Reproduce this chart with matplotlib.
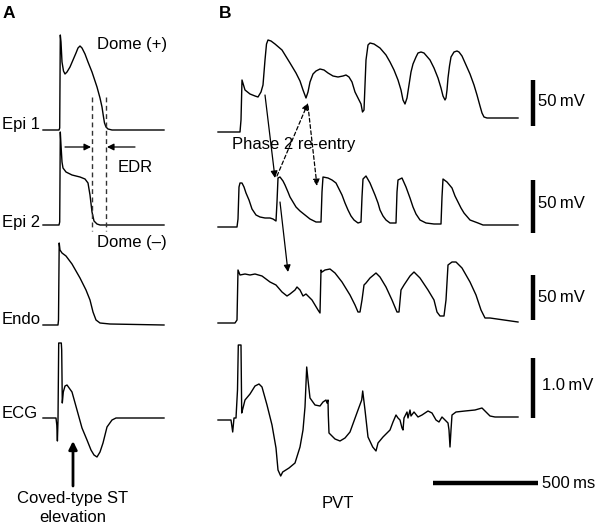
import numpy as np
import matplotlib
matplotlib.use("Agg")
import matplotlib.pyplot as plt
from matplotlib.patches import FancyArrowPatch

plt.rcParams['font.family'] = ['Liberation Sans', 'DejaVu Sans']

# ---------------- data: traces (time axis in display units, amplitude above baseline) -------------
# Panel A
epi1_t = [43, 59, 59.7, 60.3, 61, 62, 63.5, 65, 67, 70, 73, 76, 78, 80, 82, 85, 88, 92, 97, 100, 102, 103.5, 104.5, 106, 108, 112, 164]
epi1_v = [0, 0, 2, 95, 88, 68, 59, 56, 58, 63, 70, 77, 82, 84, 82, 76, 68, 58, 43, 32, 23, 13, 7, 3, 1, 0, 0]

epi2_t = [43, 59, 59.7, 60.3, 61, 62, 63, 66, 72, 80, 85, 88, 90, 92, 94, 97, 100, 164]
epi2_v = [0, 0, 3, 93, 80, 63, 57, 53, 50, 48, 46, 42, 30, 13, 4, 1, 0, 0]

endo_t = [43, 58, 58.5, 59.2, 60, 62, 66, 72, 80, 86, 90, 93, 96, 100, 110, 164]
endo_v = [0, 0, 5, 82, 75, 72, 69, 61, 47, 35, 25, 13, 5, 2, 1, 0]

ecgA_t = [43, 56, 56.8, 57.4, 58, 58.7, 61.3, 61.7, 62.3, 63.3, 65, 67, 72, 77, 82, 87, 91, 94, 97, 100, 103, 107, 112, 116, 164]
ecgA_v = [0, 0, -7, -23, -2, 75, 75, 68, 15, 26, 32, 33, 26, 8, -10, -22, -32, -37, -39, -34, -25, -9, -2, 0, 0]

# Panel B
b1_t = [218, 240, 241, 242, 245, 250, 255, 258, 261, 263, 265, 266.5, 268, 271, 275, 282, 290, 296, 300, 303, 306,
        308, 310, 313, 316, 320, 324, 328, 333, 338, 343, 346, 349, 352, 355, 358, 361, 362.5, 364, 366, 368, 370,
        374, 380, 386, 390, 394, 398, 401, 403, 405, 407, 409, 411, 413, 416, 418, 421, 424, 430, 434, 438, 441,
        443, 445, 446, 447, 448, 449.5, 451, 454, 457, 459, 462, 466, 470, 474, 477, 480, 482, 484, 487, 518]
b1_v = [0, 0, 12, 52, 42, 38, 36, 35, 40, 47, 72, 88, 92, 91, 88, 82, 69, 59, 51, 42, 34,
        40, 50, 58, 61, 63, 62, 59, 56, 55, 56, 57, 55, 50, 40, 34, 28, 20, 22, 72, 87, 89,
        88, 84, 77, 70, 62, 52, 42, 32, 28, 34, 47, 60, 68, 75, 79, 80, 79, 72, 64, 54, 44,
        36, 32, 34, 42, 54, 66, 75, 80, 81, 80, 76, 67, 58, 47, 37, 26, 19, 15, 14, 14]

b2_t = [218, 237, 238, 239, 240, 242, 244, 246, 249, 252, 256, 260, 265, 270, 273, 276, 277, 278, 280, 283, 285,
        288, 290, 293, 296, 300, 305, 310, 316, 321, 322, 323, 328, 332, 336, 339, 342, 345, 348, 351, 354, 358,
        361, 362, 363, 366, 370, 375, 378, 380, 383, 386, 390, 396, 397, 398, 402, 406, 410, 413, 416, 420, 426,
        434, 441, 442, 443, 447, 452, 455, 458, 461, 464, 470, 478, 483, 490, 518]
b2_v = [0, 0, 8, 40, 44, 44, 40, 34, 27, 18, 12, 10, 9, 9, 8, 6, 25, 49, 50, 46, 42,
        35, 30, 25, 20, 16, 12, 8, 5, 5, 35, 50, 49, 47, 44, 38, 32, 24, 17, 11, 7, 4,
        5, 30, 48, 51, 44, 32, 24, 17, 11, 7, 4, 4, 35, 47, 49, 40, 29, 20, 13, 7, 4,
        3, 3, 30, 48, 45, 39, 31, 25, 19, 14, 7, 4, 2, 2, 2]

b3_t = [218, 235, 237, 238, 240, 245, 250, 255, 262, 270, 276, 282, 287, 290, 295, 297, 300, 303, 306, 308, 312,
        318, 320, 321, 322, 325, 330, 335, 342, 350, 355, 358, 360, 362, 364, 366, 370, 376, 380, 386, 392, 397,
        399, 401, 404, 410, 414, 420, 428, 434, 437, 440, 444, 446, 448, 452, 456, 462, 470, 476, 481, 485, 490, 518]
b3_v = [0, 0, 3, 53, 48, 49, 48, 49, 47, 41, 38, 31, 27, 29, 33, 36, 33, 27, 29, 27, 23,
        13, 10, 53, 51, 53, 54, 50, 41, 28, 18, 11, 11, 23, 38, 40, 45, 50, 46, 36, 23, 11,
        11, 33, 38, 47, 51, 45, 33, 23, 11, 7, 7, 23, 58, 61, 61, 55, 41, 28, 13, 5, 5, 1]

ecgB_t = [218, 231, 232.7, 234, 236, 237.5, 238.3, 241, 241.7, 243, 245, 250, 255, 259, 262, 267, 272, 276, 278, 280.7,
          282.7, 289, 295, 300, 303, 305, 306.7, 308, 310, 315, 320, 323, 326, 327, 328, 328.3, 329, 335, 340, 345,
          350, 358, 361.7, 362.7, 365, 368, 372.7, 376, 378, 383, 390, 393, 396, 398, 400, 402, 403, 404, 407, 408,
          410, 411, 414, 418, 422, 428, 432, 436, 439, 442, 445, 448, 449, 450, 451, 452, 456, 465, 475, 482, 486,
          490, 495, 518]
ecgB_v = [0, 0, -12, 2, 2, 30, 75, 75, 7, 12, 20, 26, 34, 36, 33, 15, -5, -28, -50, -56,
          -52, -48, -43, -27, -10, 13, 53, 40, 22, 15, 14, 18, 20, 17, 20, 5, -13, -19, -21, -18,
          -12, 10, 20, 29, 10, -17, -27, -31, -23, -17, -10, -2, 5, 2, 0, -8, -10, 2, 8, 2,
          10, 4, 8, 3, 5, 9, 7, 0, -2, 3, 0, -3, -10, -27, -10, 5, 8, 9, 10, 12, 8,
          4, 3, 3]

# trace labels and scale-bar texts
row_labels = ["Epi 1", "Epi 2", "Endo", "ECG"]
scale_labels = ["50\u2009mV", "50\u2009mV", "50\u2009mV", "1.0\u2009mV"]
time_label = "500\u2009ms"

# ---------------- layout -------------
fig = plt.figure(figsize=(6.0, 5.29), dpi=100)
ax = fig.add_axes([0, 0, 1, 1])
ax.set_xlim(0, 600)
ax.set_ylim(529, 0)
ax.axis('off')

LW = 1.0
K = 'black'
FS = 12

def trace(t, v, base, t0=0):
    t = np.asarray(t, float) + t0
    y = base - np.asarray(v, float)
    ax.plot(t, y, color=K, lw=LW, solid_joinstyle='round')

trace(epi1_t, epi1_v, 130)
trace(epi2_t, epi2_v, 225)
trace(endo_t, endo_v, 325)
trace(ecgA_t, ecgA_v, 418)

trace(b1_t, b1_v, 132)
trace(b2_t, b2_v, 227)
trace(b3_t, b3_v, 323)
trace(ecgB_t, ecgB_v, 420)

# panel letters
ax.text(3, 13, "A", fontsize=12.5, fontweight='bold', va='center', ha='left')
ax.text(219, 13, "B", fontsize=12.5, fontweight='bold', va='center', ha='left')

# row labels
for lab, yy in zip(row_labels, [125, 222, 320, 414]):
    ax.text(2, yy, lab, fontsize=FS, va='center', ha='left')

ax.text(97, 45, "Dome (+)", fontsize=FS, va='center', ha='left')
ax.text(97, 243, "Dome (\u2013)", fontsize=FS, va='center', ha='left')
ax.text(118, 168, "EDR", fontsize=FS, va='center', ha='left')
ax.text(73, 498, "Coved-type ST", fontsize=FS, va='center', ha='center')
ax.text(73, 517, "elevation", fontsize=FS, va='center', ha='center')

# dashed verticals (EDR)
for xx in (92, 106):
    ax.plot([xx, xx], [97, 231], color='#333333', lw=1.0, ls=(0, (3.5, 2.5)))

def arrow(p0, p1, ls='-', lw=0.9, ms=10):
    a = FancyArrowPatch(p0, p1, arrowstyle='-|>', mutation_scale=ms, color=K,
                        lw=lw, linestyle=ls, shrinkA=0, shrinkB=0)
    ax.add_patch(a)

arrow((65, 147), (91, 147))
arrow((135, 147), (107, 147))
arrow((73, 486), (73, 441), lw=2.0, ms=12)

# panel B annotations
ax.text(232, 145, "Phase 2 re-entry", fontsize=FS, va='center', ha='left')
arrow((265, 95), (275, 178))
arrow((280, 202), (288, 272))
arrow((277, 176), (308, 103), ls=(0, (3, 2)))
arrow((308, 106), (317, 186), ls=(0, (3, 2)))

# scale bars
for (y0, y1), lab, ly, lx in zip([(80, 126), (180, 233), (275, 320), (358, 418)],
                                 scale_labels, [102, 203, 298, 385], [538, 538, 538, 542]):
    ax.plot([533, 533], [y0, y1], color=K, lw=3.2, solid_capstyle='butt')
    ax.text(lx, ly, lab, fontsize=FS, va='center', ha='left')

ax.plot([433, 538], [483, 483], color=K, lw=3.2, solid_capstyle='butt')
ax.text(542, 483, time_label, fontsize=FS, va='center', ha='left')
ax.text(338, 503, "PVT", fontsize=FS, va='center', ha='center')

fig.savefig("out.png", dpi=100)
